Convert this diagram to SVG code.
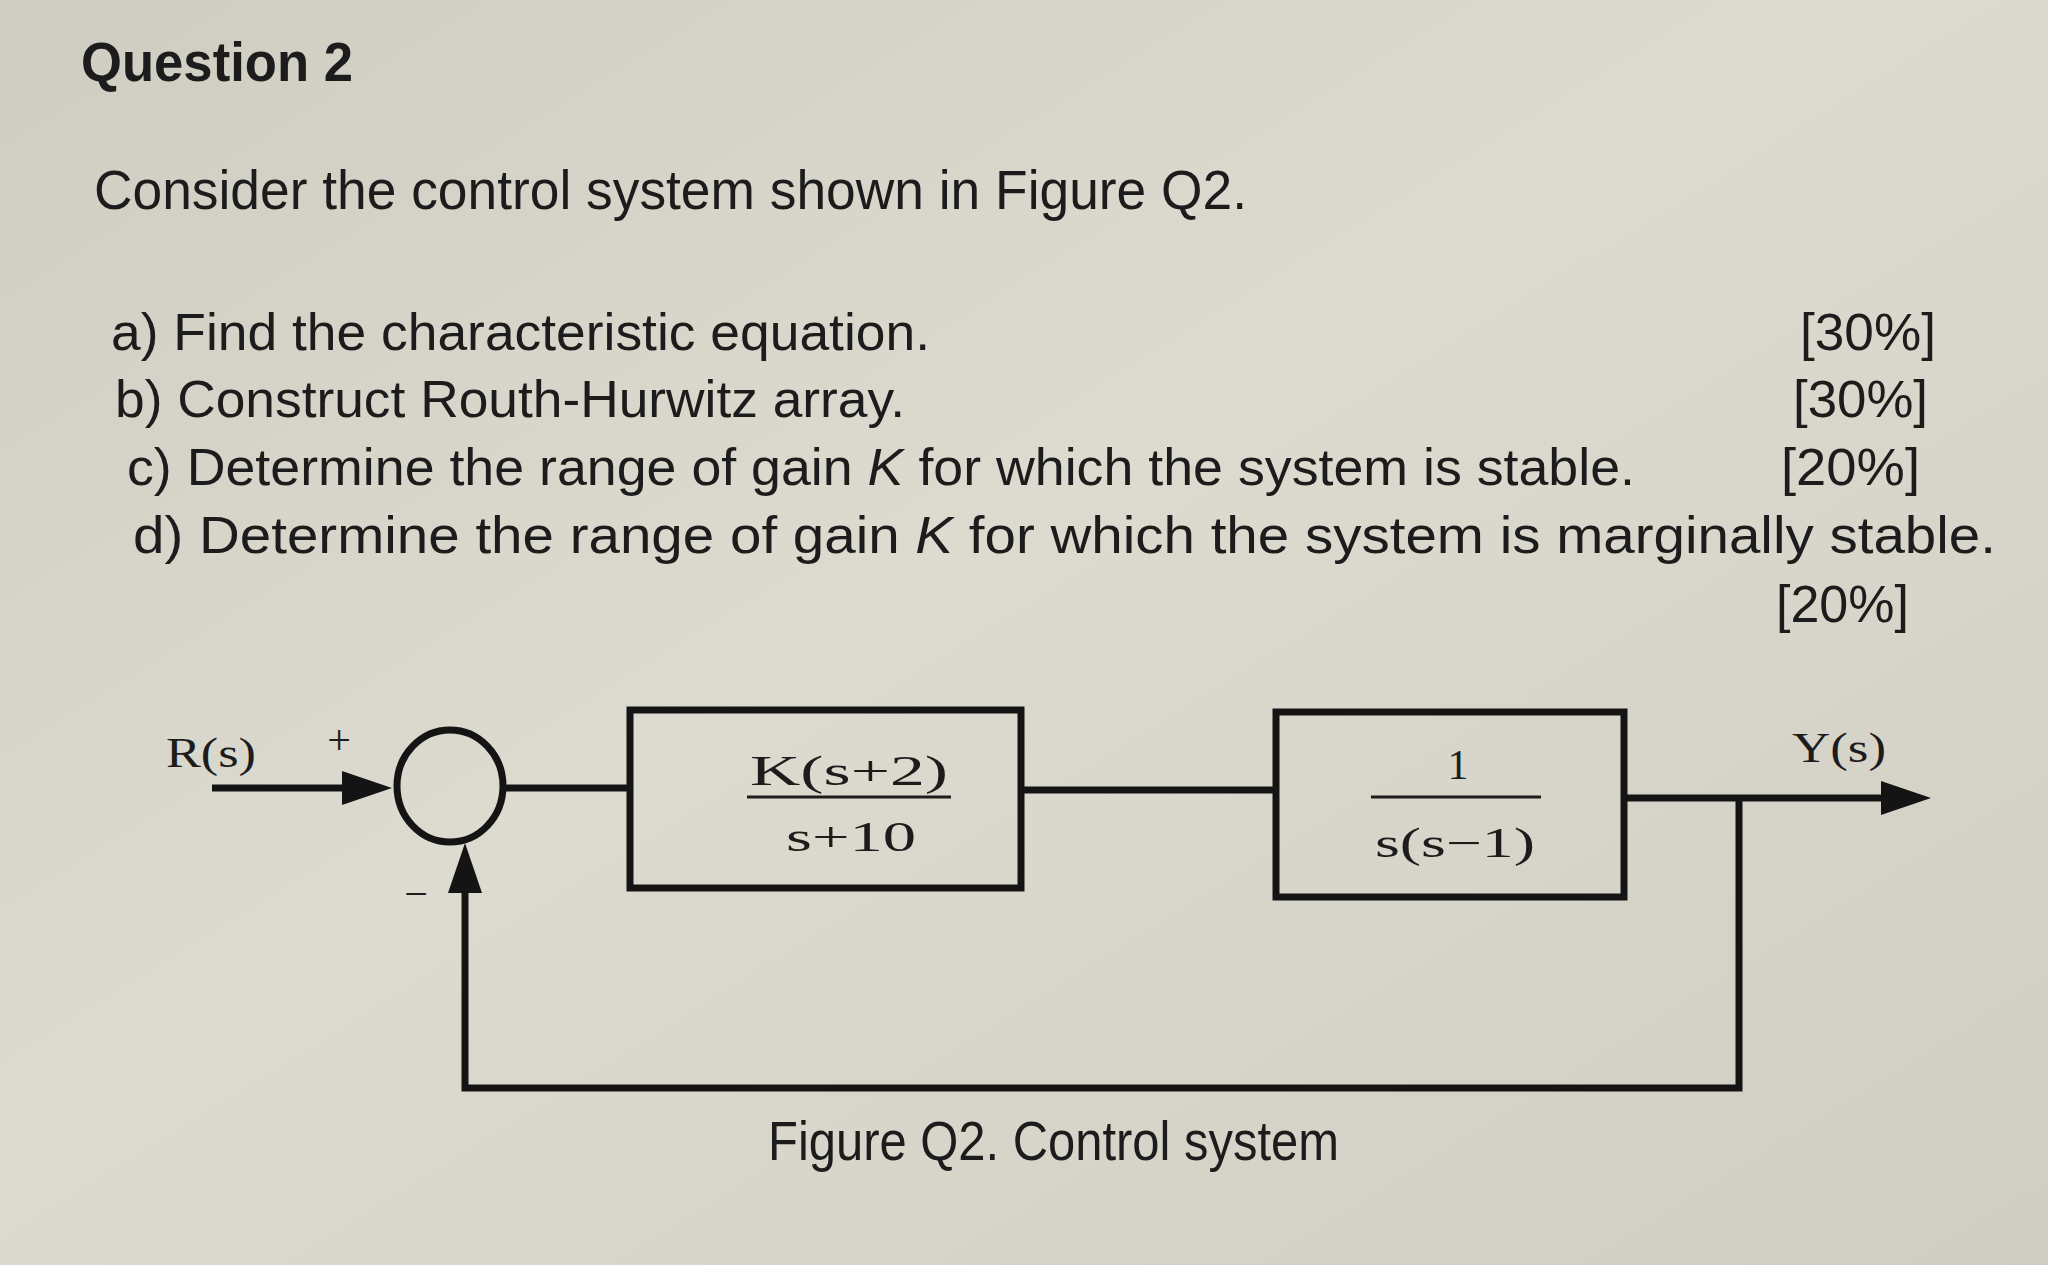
<svg xmlns="http://www.w3.org/2000/svg" width="2048" height="1265" viewBox="0 0 2048 1265">
<defs>
<linearGradient id="bg" x1="0" y1="0" x2="1" y2="1">
<stop offset="0" stop-color="#cfccc1"/>
<stop offset="0.45" stop-color="#dddacf"/>
<stop offset="1" stop-color="#d0cdc2"/>
</linearGradient>
<marker id="arr" viewBox="0 0 50 34" refX="25" refY="17" markerWidth="50" markerHeight="34" markerUnits="userSpaceOnUse" orient="auto">
<path d="M0,0 L50,17 L0,34 z" fill="#141414"/>
</marker>
<style>
.t{font-family:"Liberation Sans",Arial,sans-serif;fill:#1c1c1c;font-size:56px}
.i{font-size:52px}
.b{font-weight:bold}
.m{font-family:"Liberation Serif","Times New Roman",serif;fill:#1c1c1c;font-size:42px}
.ln{stroke:#141414;stroke-width:7;fill:none}
.box{stroke:#141414;stroke-width:7;fill:none}
.frac{stroke:#1c1c1c;stroke-width:3}
</style>
</defs>
<rect width="2048" height="1265" fill="url(#bg)"/>
<g id="text">
<text class="t b" x="81" y="81" textLength="272" lengthAdjust="spacingAndGlyphs">Question 2</text>
<text class="t" x="94" y="209" textLength="1153" lengthAdjust="spacingAndGlyphs">Consider the control system shown in Figure Q2.</text>
<text class="t i" x="111" y="350" textLength="819" lengthAdjust="spacingAndGlyphs">a) Find the characteristic equation.</text>
<text class="t i" x="1800" y="350" textLength="136" lengthAdjust="spacingAndGlyphs">[30%]</text>
<text class="t i" x="115" y="417" textLength="790" lengthAdjust="spacingAndGlyphs">b) Construct Routh-Hurwitz array.</text>
<text class="t i" x="1793" y="417" textLength="135" lengthAdjust="spacingAndGlyphs">[30%]</text>
<text class="t i" x="127" y="485" textLength="1508" lengthAdjust="spacingAndGlyphs">c) Determine the range of gain <tspan font-style="italic">K</tspan> for which the system is stable.</text>
<text class="t i" x="1781" y="485" textLength="139" lengthAdjust="spacingAndGlyphs">[20%]</text>
<text class="t i" x="133" y="553" textLength="1863" lengthAdjust="spacingAndGlyphs">d) Determine the range of gain <tspan font-style="italic">K</tspan> for which the system is marginally stable.</text>
<text class="t i" x="1776" y="622" textLength="133" lengthAdjust="spacingAndGlyphs">[20%]</text>
<text class="t" x="768" y="1160" font-size="50" textLength="571" lengthAdjust="spacingAndGlyphs">Figure Q2. Control system</text>
</g>
<g id="connectors">
<path class="ln" d="M212,788 L367,788" marker-end="url(#arr)"/>
<path class="ln" d="M503,788 L627,788"/>
<path class="ln" d="M1021,790 L1274,790"/>
<path class="ln" d="M1625,798 L1906,798" marker-end="url(#arr)"/>
<path class="ln" d="M1739,798 L1739,1088 L465,1088 L465,868" marker-end="url(#arr)"/>
</g>
<g id="R">
<text class="m" x="166" y="767" textLength="90" lengthAdjust="spacingAndGlyphs">R(s)</text>
</g>
<g id="signs">
<text class="m" x="339" y="754" text-anchor="middle" font-size="36">+</text>
<text class="m" x="416" y="908" text-anchor="middle" font-size="40">−</text>
</g>
<g id="sum">
<ellipse cx="450" cy="786" rx="53" ry="56" fill="none" stroke="#141414" stroke-width="7"/>
</g>
<g id="G1">
<rect class="box" x="630" y="710" width="391" height="178"/>
<text class="m" x="849" y="785" text-anchor="middle" textLength="198" lengthAdjust="spacingAndGlyphs">K(s+2)</text>
<line class="frac" x1="747" y1="797" x2="951" y2="797"/>
<text class="m" x="851" y="851" text-anchor="middle" textLength="130" lengthAdjust="spacingAndGlyphs">s+10</text>
</g>
<g id="G2">
<rect class="box" x="1276" y="712" width="348" height="185"/>
<text class="m" x="1458" y="779" text-anchor="middle">1</text>
<line class="frac" x1="1371" y1="797" x2="1541" y2="797"/>
<text class="m" x="1455" y="857" text-anchor="middle" textLength="160" lengthAdjust="spacingAndGlyphs">s(s−1)</text>
</g>
<g id="Y">
<text class="m" x="1792" y="762" textLength="94" lengthAdjust="spacingAndGlyphs">Y(s)</text>
</g>
</svg>
